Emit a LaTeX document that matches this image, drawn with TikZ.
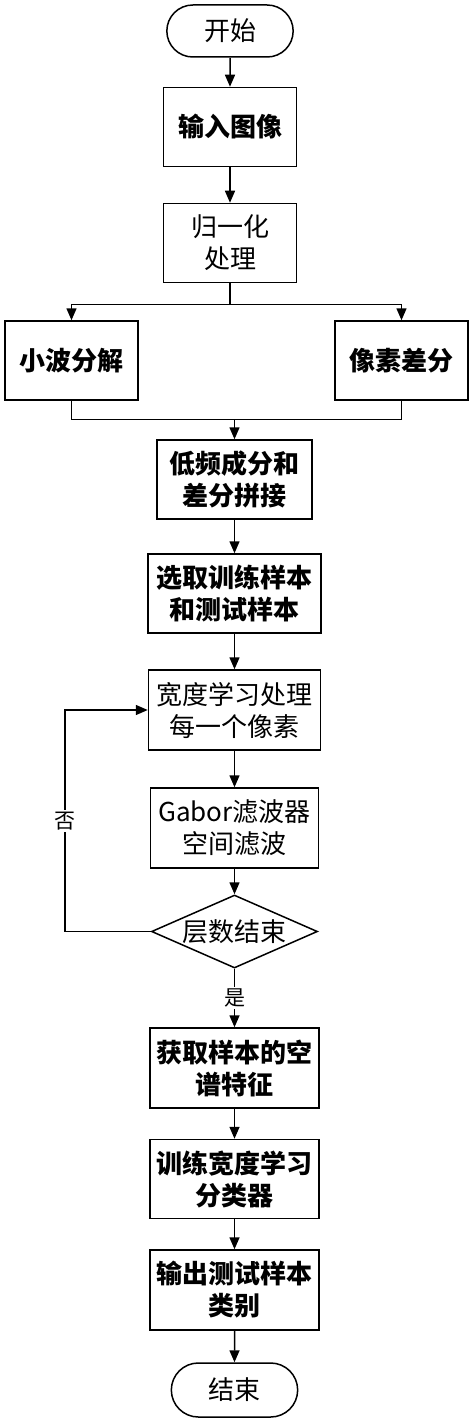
\documentclass[tikz,border=0pt]{standalone}
\usepackage{fontspec}
\setmainfont{Noto Sans CJK SC}
\usetikzlibrary{shapes.misc, shapes.geometric, arrows.meta, positioning}

\begin{document}
\begin{tikzpicture}[x=1pt, y=1pt, node distance=100pt,
  box/.style={rectangle, draw, line width=1.5pt, minimum width=133pt, minimum height=79pt, align=center, font=\fontsize{26}{32}\selectfont\bfseries},
  term/.style={rounded rectangle, draw, line width=1.5pt, minimum width=133pt, minimum height=52pt, font=\fontsize{26}{32}\selectfont},
  cond/.style={diamond, draw, line width=1.5pt, aspect=2.27, inner sep=0pt, minimum width=166pt, minimum height=73pt, font=\fontsize{26}{32}\selectfont},
  lab/.style={fill=white, inner sep=2pt, font=\fontsize{21}{24}\selectfont},
  arr/.style={-{Triangle[length=12pt, width=10pt]}, line width=1.5pt},
  link/.style={line width=1.5pt}]

\useasboundingbox (0,0) rectangle (474,-1423);

\node[term] (start) at (230,-31) {开始};
\node[box, below of=start, node distance=96pt] (input) {输入图像};
\node[box, below of=input, node distance=116pt, font=\fontsize{26}{32}\selectfont] (norm) {归一化\\处理};
\node[box] (wavelet) at (71.5,-360.5) {小波分解};
\node[box] (pixdiff) at (401.5,-360.5) {像素差分};
\node[box, below of=norm, node distance=236.5pt, xshift=4.5pt, minimum width=155pt] (concat) {低频成分和\\差分拼接};
\node[box, below of=concat, node distance=114pt, minimum width=173pt] (select) {选取训练样本\\和测试样本};
\node[box, below of=select, node distance=116.5pt, minimum width=172pt, minimum height=80pt, font=\fontsize{26}{32}\selectfont] (broad) {宽度学习处理\\每一个像素};
\node[box, below of=broad, node distance=118pt, minimum width=168pt, minimum height=80pt, font=\fontsize{26}{32}\selectfont] (gabor) {Gabor滤波器\\空间滤波};
\node[cond, below of=gabor, node distance=103.5pt] (layer) {层数结束};
\node[box, below of=layer, node distance=136.5pt, minimum width=169pt, minimum height=80pt] (feature) {获取样本的空\\谱特征};
\node[box, below of=feature, node distance=111pt, minimum width=169pt] (train) {训练宽度学习\\分类器};
\node[box, below of=train, node distance=111pt, minimum width=169pt, minimum height=80pt] (output) {输出测试样本\\类别};
\node[term, below of=output, node distance=100pt, minimum height=54pt] (stop) {结束};

\coordinate[below=21pt of norm.south] (fork);
\coordinate[above=20pt of concat.north] (join);

\draw[arr] (start) -- (input);
\draw[arr] (input) -- (norm);
\draw[link] (norm) -- (fork);
\draw[arr] (fork) -| (wavelet);
\draw[arr] (fork) -| (pixdiff);
\draw[link] (wavelet.south) |- (join) -| (pixdiff.south);
\draw[arr] (join) -- (concat);
\draw[arr] (concat) -- (select);
\draw[arr] (select) -- (broad);
\draw[arr] (broad) -- (gabor);
\draw[arr] (gabor) -- (layer);
\draw[arr] (layer.west) -- ++(-86,0) -- node[lab] (no) {否} ++(0,221.5) -- (broad.west);
\draw[arr] (layer) -- node[lab] (yes) {是} (feature);
\draw[arr] (feature) -- (train);
\draw[arr] (train) -- (output);
\draw[arr] (output) -- (stop);

\end{tikzpicture}
\end{document}
